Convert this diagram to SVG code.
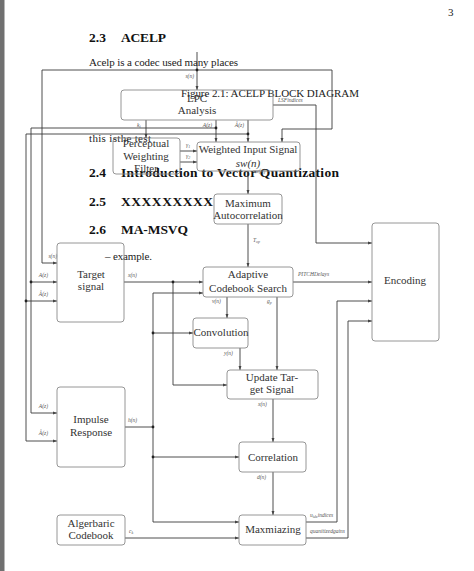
<svg xmlns="http://www.w3.org/2000/svg" width="474" height="571" viewBox="0 0 474 571">
<defs>
<marker id="ah" viewBox="0 0 6 6" refX="6" refY="3" markerWidth="4" markerHeight="4" orient="auto" markerUnits="userSpaceOnUse">
<path d="M0,0.8 L6,3 L0,5.2 z" fill="#444"/>
</marker>
<style>
.bx{fill:none;stroke:#8a8a8a;stroke-width:0.9}
.ln{fill:none;stroke:#3a3a3a;stroke-width:0.9}
.ar{marker-end:url(#ah)}
.dot{fill:#222}
.t{font-family:"Liberation Serif","DejaVu Serif",serif;font-size:11px;fill:#333;text-anchor:middle}
.s{font-family:"Liberation Serif","DejaVu Serif",serif;font-size:5.5px;font-style:italic;fill:#555}
.h{font-family:"Liberation Serif","DejaVu Serif",serif;font-size:13.5px;font-weight:bold;fill:#111}
.b{font-family:"Liberation Serif","DejaVu Serif",serif;font-size:11px;fill:#222}
</style>
</defs>
<rect x="0" y="0" width="474" height="571" fill="#fff"/>
<rect x="0" y="0" width="4.5" height="571" fill="#707070"/>

<g id="page-text">
<text class="b" x="448" y="16" font-size="10">3</text>
<text class="h" x="89" y="42">2.3</text>
<text class="h" x="121" y="42" textLength="45">ACELP</text>
<text class="b" x="89" y="66" textLength="149">Acelp is a codec used many places</text>
<text class="b" x="181" y="97" textLength="178">Figure 2.1: ACELP BLOCK DIAGRAM</text>
<text class="b" x="89" y="142" textLength="62">this isthe test</text>
<text class="h" x="89" y="177">2.4</text>
<text class="h" x="121" y="177" textLength="218">Introduction to Vector Quantization</text>
<text class="h" x="89" y="206">2.5</text>
<text class="h" x="121" y="206" textLength="92">XXXXXXXXX</text>
<text class="h" x="89" y="234">2.6</text>
<text class="h" x="121" y="234" textLength="67">MA-MSVQ</text>
<text class="b" x="105" y="260" textLength="47">– example.</text>
</g>

<g id="connectors">
<path class="ln ar" d="M197,52 V90"/>
<path class="ln" d="M42,70 H332 V129 H282"/>
<path class="ln ar" d="M282,129 V142"/>
<path class="ln ar" d="M42,70 V263 H57"/>
<path class="ln ar" d="M146,120 V138"/>
<path class="ln ar" d="M216,120 V142"/>
<path class="ln ar" d="M248,120 V142"/>
<path class="ln ar" d="M216,128 H31 V413 H57"/>
<path class="ln ar" d="M31,282 H57"/>
<path class="ln ar" d="M248,134 H26 V441 H57"/>
<path class="ln ar" d="M26,301 H57"/>
<path class="ln ar" d="M273,105 H316 V243 H372"/>
<path class="ln ar" d="M180,151 H197"/>
<path class="ln ar" d="M180,162 H197"/>
<path class="ln ar" d="M248,171 V194"/>
<path class="ln ar" d="M248,224 V267"/>
<path class="ln ar" d="M124,282 H203"/>
<path class="ln ar" d="M173,282 V385 H227"/>
<path class="ln" d="M125,427 H153"/>
<path class="ln ar" d="M153,522 V293 H203"/>
<path class="ln ar" d="M153,522 H239"/>
<path class="ln ar" d="M153,333 H193"/>
<path class="ln ar" d="M153,457 H239"/>
<path class="ln ar" d="M125,538 H239"/>
<path class="ln ar" d="M293,282 H372"/>
<path class="ln ar" d="M306,522 H337 V301 H372"/>
<path class="ln ar" d="M306,538 H348 V321 H372"/>
<path class="ln ar" d="M227,297 V318"/>
<path class="ln ar" d="M277,297 V370"/>
<path class="ln ar" d="M240,348 V370"/>
<path class="ln ar" d="M273,399 V442"/>
<path class="ln ar" d="M273,472 V515"/>
<circle class="dot" cx="197" cy="70" r="1.4"/>
<circle class="dot" cx="216" cy="128" r="1.4"/>
<circle class="dot" cx="248" cy="134" r="1.4"/>
<circle class="dot" cx="31" cy="282" r="1.4"/>
<circle class="dot" cx="26" cy="301" r="1.4"/>
<circle class="dot" cx="173" cy="282" r="1.4"/>
<circle class="dot" cx="153" cy="333" r="1.4"/>
<circle class="dot" cx="153" cy="427" r="1.4"/>
<circle class="dot" cx="153" cy="457" r="1.4"/>
<text class="s" x="194" y="78" text-anchor="end">s(n)</text>
<text class="s" x="137" y="127">k<tspan font-size="4" dy="1">i</tspan></text>
<text class="s" x="212" y="127" text-anchor="end">A(z)</text>
<text class="s" x="244" y="127" text-anchor="end">Â(z)</text>
<text class="s" x="278" y="102">LSFindices</text>
<text class="s" x="186" y="147">γ<tspan font-size="4" dy="1">1</tspan></text>
<text class="s" x="186" y="158">γ<tspan font-size="4" dy="1">2</tspan></text>
<text class="s" x="253" y="173">sw(n)</text>
<text class="s" x="253" y="242">T<tspan font-size="4" dy="1">op</tspan></text>
<text class="s" x="298" y="276">PITCHDelays</text>
<text class="s" x="57" y="258" text-anchor="end">s(n)</text>
<text class="s" x="48" y="277" text-anchor="end">A(z)</text>
<text class="s" x="48" y="296" text-anchor="end">Â(z)</text>
<text class="s" x="128" y="277">x(n)</text>
<text class="s" x="212" y="303">v(n)</text>
<text class="s" x="267" y="303">g<tspan font-size="4" dy="1">p</tspan></text>
<text class="s" x="224" y="355">y(n)</text>
<text class="s" x="258" y="406">x(n)</text>
<text class="s" x="48" y="408" text-anchor="end">A(z)</text>
<text class="s" x="48" y="435" text-anchor="end">Â(z)</text>
<text class="s" x="128" y="422">h(n)</text>
<text class="s" x="257" y="479">d(n)</text>
<text class="s" x="310" y="517">u<tspan font-size="4" dy="1">idx</tspan><tspan dy="-1">indices</tspan></text>
<text class="s" x="310" y="533">quanitizedgains</text>
<text class="s" x="129" y="533">c<tspan font-size="4" dy="1">k</tspan></text>
</g>

<g id="lpc"><rect class="bx" x="121" y="90" width="152" height="30" rx="3"/>
<text class="t" x="197" y="102">LPC</text><text class="t" x="197" y="114">Analysis</text></g>
<g id="pwf"><rect class="bx" x="113" y="138" width="67" height="36" rx="3"/>
<text class="t" x="146" y="147">Perceptual</text><text class="t" x="146" y="160">Weighting</text><text class="t" x="146" y="172">Filter</text></g>
<g id="wis"><rect class="bx" x="197" y="142" width="103" height="29" rx="3"/>
<text class="t" x="248" y="153">Weighted Input Signal</text><text class="t" x="248" y="167" font-style="italic">sw(n)</text></g>
<g id="maxauto"><rect class="bx" x="214" y="194" width="68" height="30" rx="3"/>
<text class="t" x="248" y="207">Maximum</text><text class="t" x="248" y="219">Autocorrelation</text></g>
<g id="target"><rect class="bx" x="57" y="243" width="67" height="79" rx="3"/>
<text class="t" x="91" y="278">Target</text><text class="t" x="91" y="290">signal</text></g>
<g id="acs"><rect class="bx" x="203" y="267" width="90" height="30" rx="3"/>
<text class="t" x="248" y="278">Adaptive</text><text class="t" x="248" y="292">Codebook Search</text></g>
<g id="encoding"><rect class="bx" x="372" y="223" width="67" height="118" rx="3"/>
<text class="t" x="405" y="284">Encoding</text></g>
<g id="conv"><rect class="bx" x="193" y="318" width="55" height="30" rx="3"/>
<text class="t" x="221" y="336">Convolution</text></g>
<g id="uts"><rect class="bx" x="227" y="370" width="91" height="29" rx="3"/>
<text class="t" x="272" y="381">Update Tar-</text><text class="t" x="272" y="393">get Signal</text></g>
<g id="impulse"><rect class="bx" x="57" y="387" width="68" height="80" rx="3"/>
<text class="t" x="91" y="423">Impulse</text><text class="t" x="91" y="436">Response</text></g>
<g id="corr"><rect class="bx" x="239" y="442" width="67" height="30" rx="3"/>
<text class="t" x="273" y="461">Correlation</text></g>
<g id="algebraic"><rect class="bx" x="57" y="515" width="68" height="30" rx="3"/>
<text class="t" x="91" y="527">Algerbaric</text><text class="t" x="91" y="539">Codebook</text></g>
<g id="max"><rect class="bx" x="239" y="515" width="67" height="30" rx="3"/>
<text class="t" x="273" y="533">Maxmiazing</text></g>
</svg>
